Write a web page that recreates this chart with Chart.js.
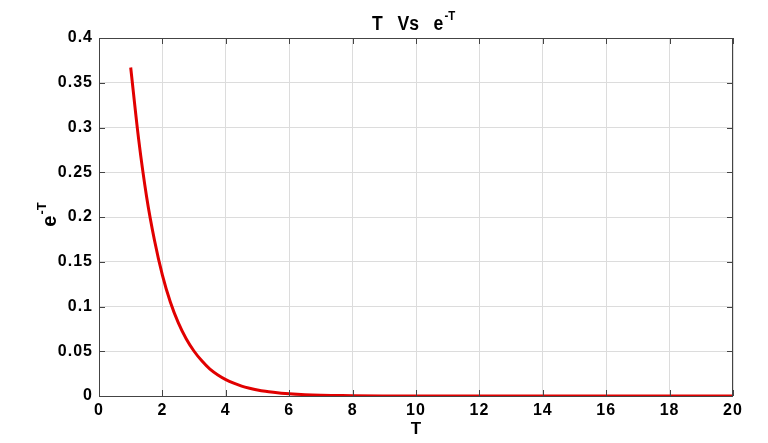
<!DOCTYPE html>
<html><head><meta charset="utf-8">
<script src="https://cdn.jsdelivr.net/npm/chart.js@4/dist/chart.umd.min.js"></script>
<style>html,body{margin:0;padding:0;background:#fff}#w{width:768px;height:443px}</style>
</head><body><div id="w"><canvas id="c"></canvas></div>
<script>
const tValues = [1,1.25,1.5,1.75,2,2.25,2.5,2.75,3,3.25,3.5,3.75,4,4.25,4.5,4.75,5,5.25,5.5,5.75,6,6.5,7,7.5,8,9,10,12,14,16,18,20];
const expValues = [0.367,0.287,0.223,0.174,0.135,0.105,0.082,0.064,0.050,0.039,0.030,0.0235,0.0183,0.0143,0.0111,0.0087,0.0067,0.0052,0.0041,0.0032,0.0025,0.0015,0.0009,0.0006,0.0003,0.0001,0.00005,0,0,0,0,0];
const xTicks = [0,2,4,6,8,10,12,14,16,18,20];
const yTicks = [0,0.05,0.1,0.15,0.2,0.25,0.3,0.35,0.4];
const titleMain = "T   Vs   e";
const titleSup = "-T";
const xLabel = "T";
const yLabelBase = "e";
const yLabelSup = "-T";

const FONT = "'Liberation Sans', Arial, sans-serif";

function condensedText(ctx, txt, x, y, sx) {
  ctx.save();
  ctx.translate(x, y);
  ctx.scale(sx, 1);
  ctx.fillText(txt, 0, 0);
  ctx.restore();
}

const deco = {
  id: 'deco',
  beforeDraw(chart) {
    chart.ctx.letterSpacing = '1px';
  },
  afterDraw(chart) {
    const ctx = chart.ctx, a = chart.chartArea;
    const xs = chart.scales.x, ys = chart.scales.y;
    ctx.save();
    ctx.letterSpacing = '0px';
    ctx.strokeStyle = '#444';
    ctx.lineWidth = 1;
    ctx.strokeRect(a.left + 0.5, a.top + 0.5, a.right - a.left - 1, a.bottom - a.top);
    ctx.beginPath();
    xTicks.forEach(v => {
      const x = Math.round(xs.getPixelForValue(v)) + 0.5;
      ctx.moveTo(x, a.bottom); ctx.lineTo(x, a.bottom - 6);
      ctx.moveTo(x, a.top); ctx.lineTo(x, a.top + 6);
    });
    yTicks.forEach(v => {
      const y = Math.round(ys.getPixelForValue(v)) + 0.5;
      ctx.moveTo(a.left, y); ctx.lineTo(a.left + 6, y);
      ctx.moveTo(a.right, y); ctx.lineTo(a.right - 6, y);
    });
    ctx.stroke();
    // title
    ctx.fillStyle = '#000';
    ctx.textBaseline = 'alphabetic';
    ctx.textAlign = 'left';
    const sc = 0.88;
    ctx.font = "bold 20px " + FONT;
    const w1 = ctx.measureText(titleMain).width * sc;
    const x0 = 372;
    condensedText(ctx, titleMain, x0, 30, sc);
    ctx.font = "bold 13px " + FONT;
    condensedText(ctx, titleSup, x0 + w1 + 1, 20, sc);
    // x label
    const cx = (a.left + a.right) / 2;
    ctx.font = "bold 17px " + FONT;
    ctx.textAlign = 'center';
    ctx.fillText(xLabel, cx, 434);
    // y label
    ctx.translate(56, 215);
    ctx.rotate(-Math.PI / 2);
    ctx.font = "bold 20px " + FONT;
    const wb = ctx.measureText(yLabelBase).width;
    ctx.font = "bold 13px " + FONT;
    const ws = ctx.measureText(yLabelSup).width;
    ctx.textAlign = 'left';
    const st = -(wb + ws) / 2;
    ctx.font = "bold 20px " + FONT;
    ctx.fillText(yLabelBase, st, 0);
    ctx.font = "bold 13px " + FONT;
    ctx.fillText(yLabelSup, st + wb + 1, -10);
    ctx.restore();
  }
};

new Chart(document.getElementById('c'), {
  type: 'line',
  data: {
    datasets: [{
      data: tValues.map((t, i) => ({x: t, y: expValues[i]})),
      borderColor: 'rgb(225,0,0)',
      borderWidth: 3,
      pointRadius: 0,
      cubicInterpolationMode: 'monotone',
      fill: false
    }]
  },
  options: {
    responsive: true,
    maintainAspectRatio: false,
    animation: false,
    layout: {padding: {left: 0, right: 35, top: 38, bottom: 0}},
    plugins: {legend: {display: false}, tooltip: {enabled: false}, title: {display: false}},
    scales: {
      x: {
        type: 'linear', min: 0, max: 20,
        afterBuildTicks: s => { s.ticks = xTicks.map(v => ({value: v})); },
        afterFit: s => { s.height = 47; },
        grid: {color: '#dcdcdc', drawTicks: false},
        border: {display: false},
        ticks: {padding: 5, color: '#000', font: {family: FONT, size: 16, weight: 'bold'}, maxRotation: 0}
      },
      y: {
        type: 'linear', min: 0, max: 0.4,
        afterBuildTicks: s => { s.ticks = yTicks.map(v => ({value: v})); },
        afterFit: s => { s.width = 99; },
        grid: {color: '#dcdcdc', drawTicks: false},
        border: {display: false},
        ticks: {padding: 6, color: '#000', font: {family: FONT, size: 16, weight: 'bold'}, callback: v => String(v)}
      }
    }
  },
  plugins: [deco]
});
</script>
</body></html>
